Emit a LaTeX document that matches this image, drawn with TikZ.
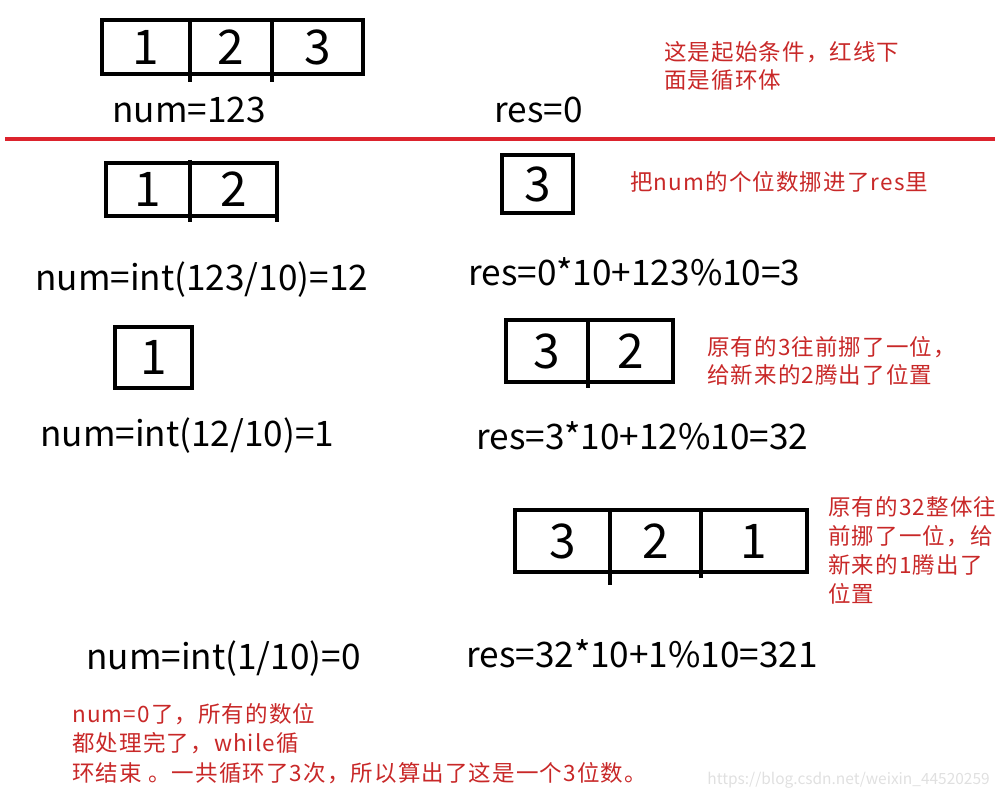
\documentclass[tikz,border=0pt]{standalone}
\usepackage{fontspec}
\setmainfont{Noto Sans CJK SC}
\newfontfamily\notefont[LetterSpace=5]{Noto Sans CJK SC}
\usetikzlibrary{positioning}
\definecolor{notered}{RGB}{200,40,40}
\definecolor{splitred}{RGB}{220,35,45}

\tikzset{
  cell/.style 2 args={draw, line width=2.8pt, inner sep=0pt, outer sep=0pt,
    minimum width=#1, minimum height=#2, font=\fontsize{34}{34}\selectfont},
  expr/.style={anchor=base west, inner sep=0pt, font=\fontsize{25}{28}\selectfont},
  note/.style={anchor=north west, inner sep=0pt, align=left, text=notered,
    font=\notefont\fontsize{16}{20}\selectfont},
  tick/.style={line width=2.8pt},
}

\begin{document}
\begin{tikzpicture}[x=0.025cm, y=-0.025cm]
\useasboundingbox (0,0) rectangle (1000,800);

% start state
\node[cell={2.2cm}{1.35cm}] (a1) at (146,47) {1};
\node[cell={2.05cm}{1.35cm}, right=0pt of a1] (a2) {2};
\node[cell={2.275cm}{1.35cm}, right=0pt of a2] (a3) {3};
\draw[tick] (a1.south east) -- ([yshift=-0.2cm]a1.south east);
\draw[tick] (a2.south east) -- ([yshift=-0.2cm]a2.south east);

\node[expr] (num0) at (112,123) {num=123};
\node[expr] (res0) at (494,123) {res=0};
\node[note] (note0) at (664,41) {这是起始条件，红线下\\面是循环体};

\draw[splitred, line width=2.2pt] (5,139) -- (995,139);

% first pass
\node[cell={2.1cm}{1.325cm}] (b1) at (148,189.5) {1};
\node[cell={2.175cm}{1.325cm}, right=0pt of b1] (b2) {2};
\draw[tick] ([yshift=0.075cm]b1.north east) -- ([yshift=-0.15cm]b1.south east);
\draw[tick] (b2.south east) -- ([yshift=-0.15cm]b2.south east);

\node[cell={1.775cm}{1.45cm}] (r1) at (537.5,184) {3};
\node[note] (note1) at (630,171) {把num的个位数挪进了res里};

\node[expr] (num1) at (35,291) {num=int(123/10)=12};
\node[expr] (res1) at (468,286) {res=0*10+123\%10=3};

% second pass
\node[cell={1.925cm}{1.525cm}] (c1) at (153.5,357.5) {1};

\node[cell={2.05cm}{1.55cm}] (s1) at (547,351) {3};
\node[cell={2.125cm}{1.55cm}, right=0pt of s1] (s2) {2};
\draw[tick] (s1.south east) -- ([yshift=-0.15cm]s1.south east);
\node[note] (note2) at (707,336) {原有的3往前挪了一位，\\给新来的2腾出了位置};

\node[expr] (num2) at (40,446) {num=int(12/10)=1};
\node[expr] (res2) at (476,449) {res=3*10+12\%10=32};

% third pass
\node[cell={2.375cm}{1.55cm}] (t1) at (562.5,541) {3};
\node[cell={2.275cm}{1.55cm}, right=0pt of t1] (t2) {2};
\node[cell={2.65cm}{1.55cm}, right=0pt of t2] (t3) {1};
\draw[tick] (t1.south east) -- ([yshift=-0.325cm]t1.south east);
\draw[tick] (t2.south east) -- ([yshift=-0.15cm]t2.south east);
\node[note, font=\notefont\fontsize{16}{20.6}\selectfont] (note3) at (828,496)
  {原有的32整体往\\前挪了一位，给\\新来的1腾出了\\位置};

\node[expr] (num3) at (86,669) {num=int(1/10)=0};
\node[expr] (res3) at (466,667) {res=32*10+1\%10=321};

% loop end
\node[note, font=\notefont\fontsize{16}{21}\selectfont] (note4) at (72,703)
  {num=0了，所有的数位\\都处理完了，while循\\环结束 。一共循环了3次，所以算出了这是一个3位数。};

\node[anchor=east, inner sep=0pt, text=black!12, font=\fontsize{11}{13}\selectfont]
  (mark) at (990,780) {https://blog.csdn.net/weixin\_44520259};
\end{tikzpicture}
\end{document}
